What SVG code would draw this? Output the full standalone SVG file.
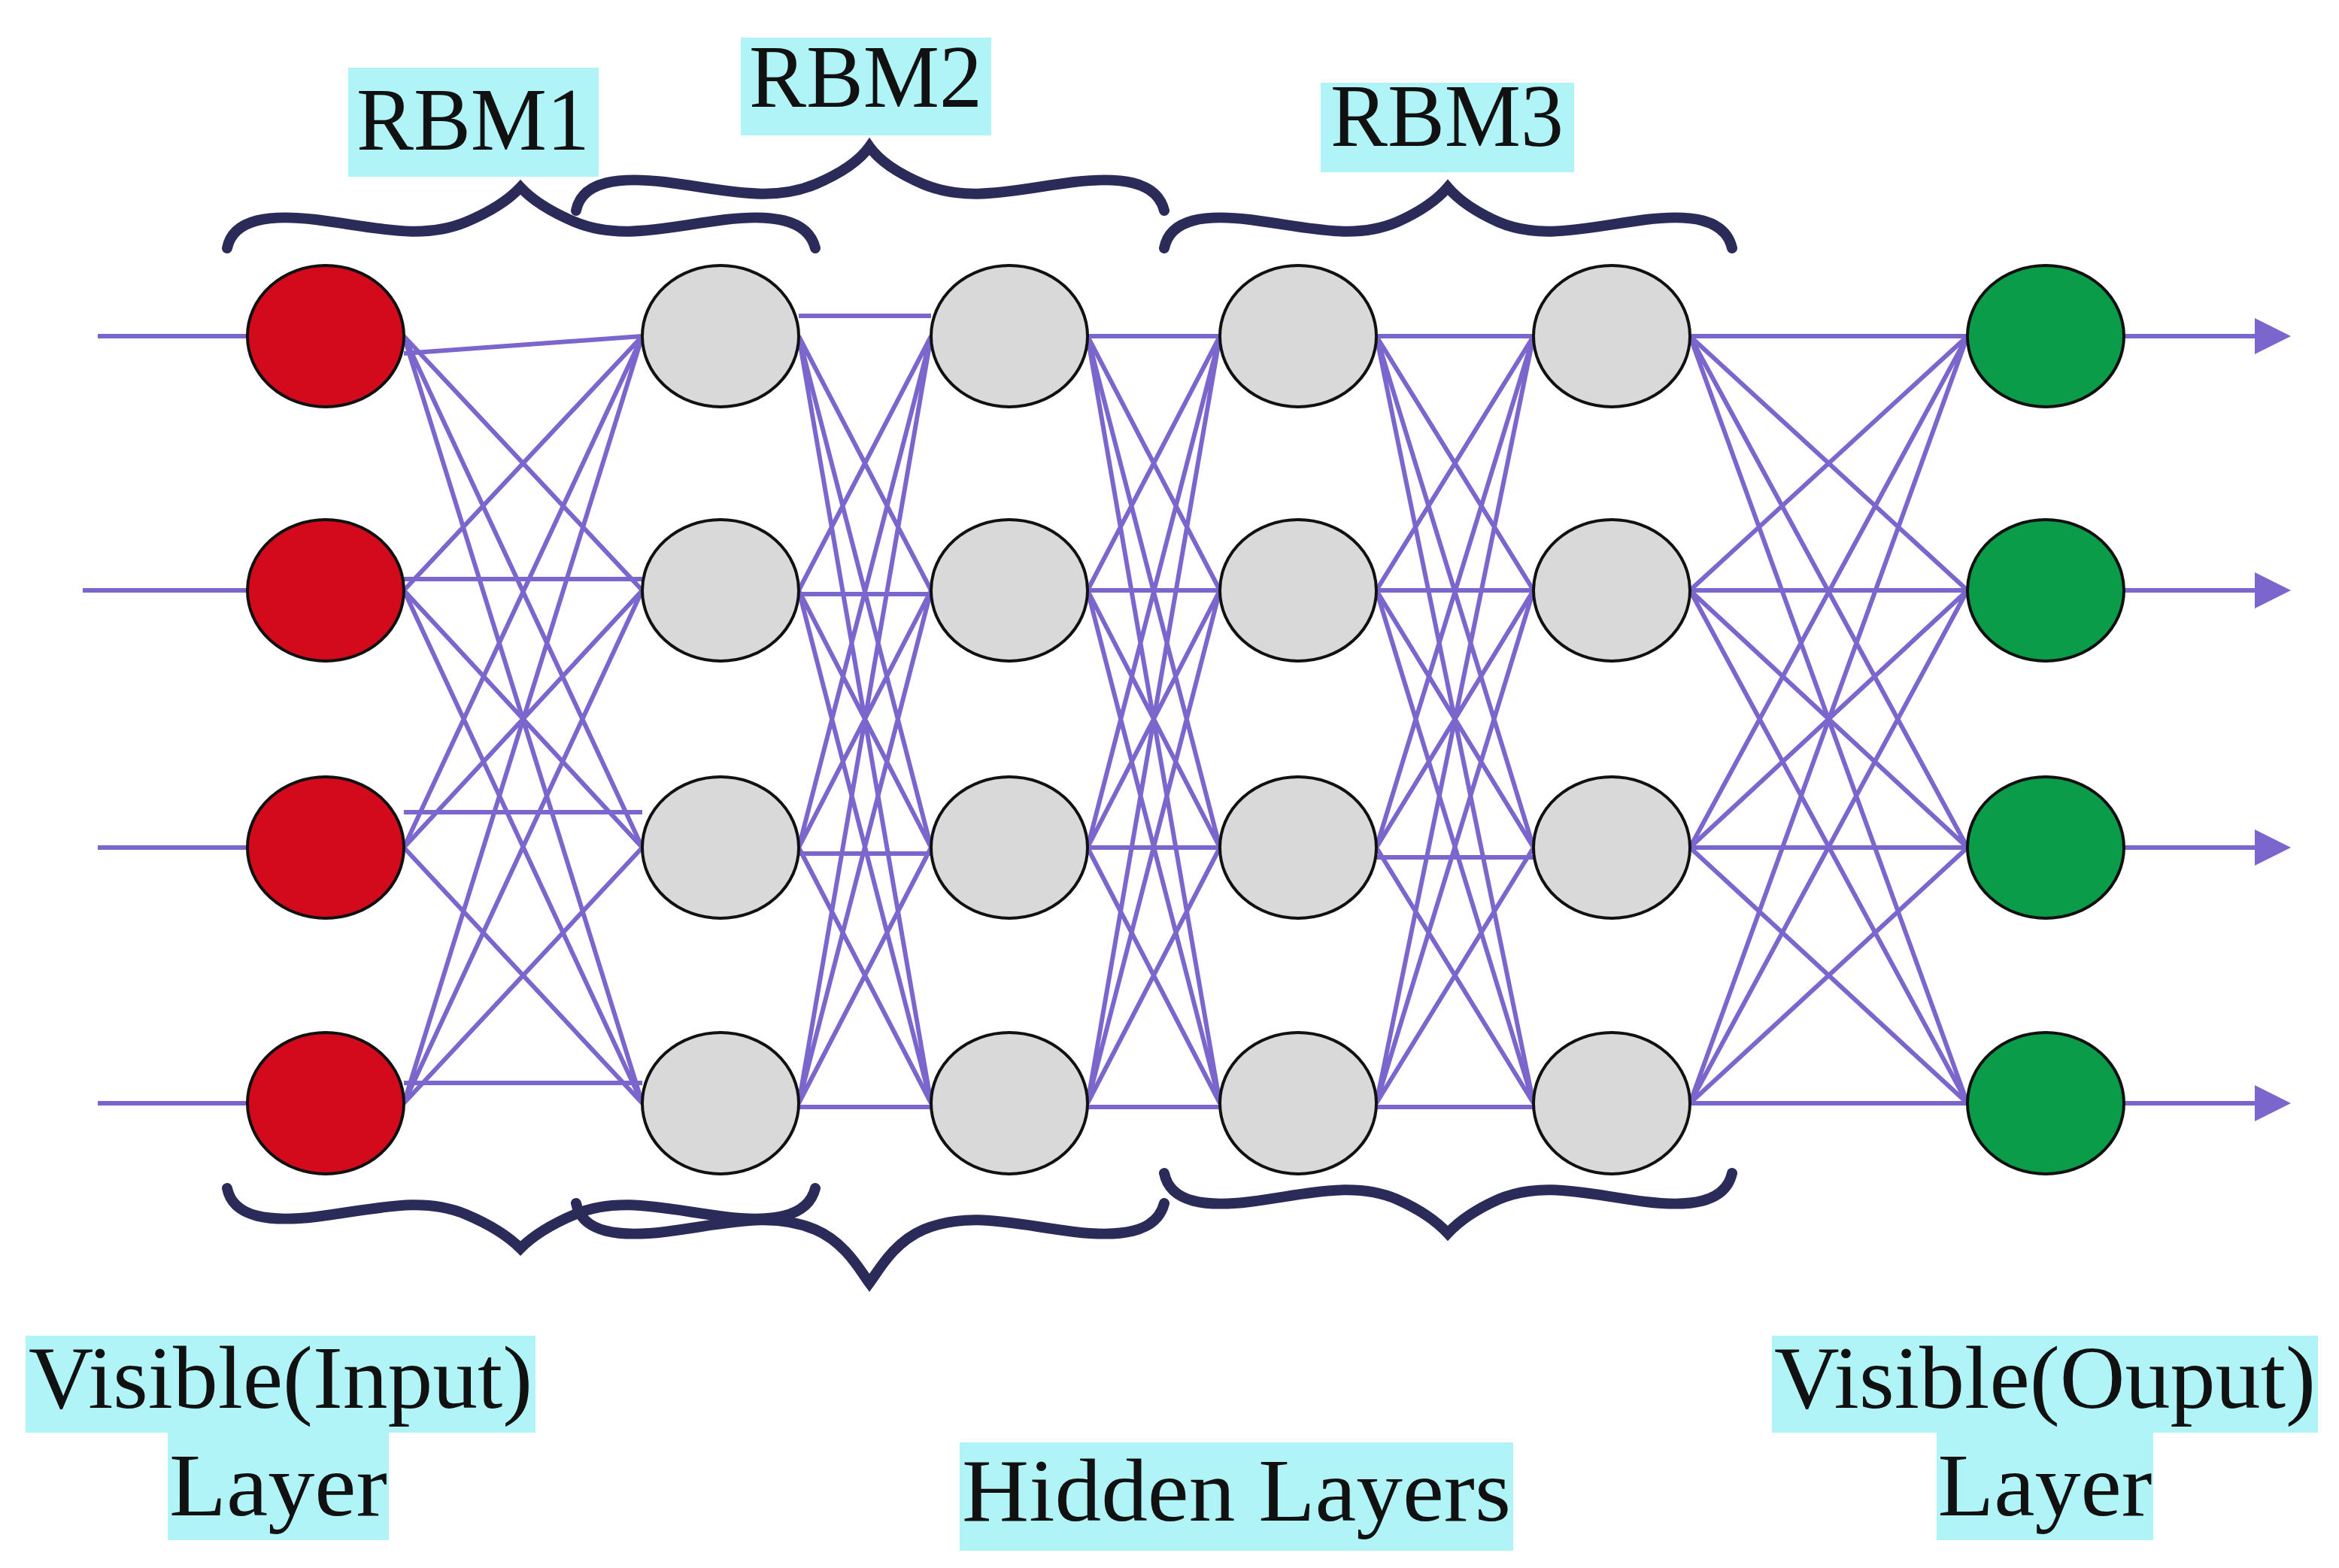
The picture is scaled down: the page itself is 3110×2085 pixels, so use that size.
<svg xmlns="http://www.w3.org/2000/svg" width="3110" height="2085" viewBox="0 0 3110 2085">
<defs>
<style>
.e{stroke:#7a66cc;stroke-width:6;fill:none}
.n{stroke:#111;stroke-width:4}
.r{fill:#d20a1c}.g{fill:#d9d9d9}.v{fill:#0a9c48}
.b{fill:#b0f4f8}
.t{font-family:"Liberation Serif","Times New Roman",serif;font-size:118px;fill:#111}
.br{fill:none;stroke:#2b2b5a;stroke-width:14;stroke-linecap:round}
</style>
<marker id="a" markerWidth="8" markerHeight="8" refX="7" refY="4" orient="auto" markerUnits="strokeWidth"><path d="M0,0 L8,4 L0,8 z" fill="#7a66cc"/></marker>
</defs>
<rect width="3110" height="2085" fill="#fff"/>
<g id="labels">
<rect class="b" x="463" y="90" width="333" height="145"/>
<text class="t" x="629" y="199" text-anchor="middle" textLength="310" lengthAdjust="spacingAndGlyphs">RBM1</text>
<rect class="b" x="985" y="50" width="333" height="130"/>
<text class="t" x="1151" y="142" text-anchor="middle" textLength="310" lengthAdjust="spacingAndGlyphs">RBM2</text>
<rect class="b" x="1756" y="110" width="337" height="119"/>
<text class="t" x="1924" y="194" text-anchor="middle" textLength="310" lengthAdjust="spacingAndGlyphs">RBM3</text>
<rect class="b" x="34" y="1776" width="678" height="129"/>
<rect class="b" x="223" y="1905" width="294" height="143"/>
<text class="t" x="373" y="1872" text-anchor="middle" textLength="670" lengthAdjust="spacingAndGlyphs">Visible(Input)</text>
<text class="t" x="370" y="2015" text-anchor="middle" textLength="290" lengthAdjust="spacingAndGlyphs">Layer</text>
<rect class="b" x="2356" y="1776" width="726" height="129"/>
<rect class="b" x="2575" y="1905" width="288" height="143"/>
<text class="t" x="2719" y="1872" text-anchor="middle" textLength="720" lengthAdjust="spacingAndGlyphs">Visible(Ouput)</text>
<text class="t" x="2719" y="2015" text-anchor="middle" textLength="285" lengthAdjust="spacingAndGlyphs">Layer</text>
<rect class="b" x="1276" y="1918" width="736" height="144"/>
<text class="t" x="1644" y="2022" text-anchor="middle" textLength="730" lengthAdjust="spacingAndGlyphs">Hidden Layers</text>
</g>
<g id="braces">
<path class="br" d="M302,330 C310,290 360,285 420,292 C500,302 560,320 620,295 C660,278 680,262 692,249 C704,262 724,278 764,295 C824,320 884,302 964,292 C1024,285 1074,290 1084,330"/>
<path class="br" d="M766,280 C774,240 824,235 884,242 C964,252 1024,270 1084,245 C1124,228 1144,212 1156,195 C1168,212 1188,228 1228,245 C1288,270 1348,252 1428,242 C1488,235 1538,240 1548,280"/>
<path class="br" d="M1548,330 C1556,290 1604,285 1662,292 C1740,302 1800,320 1858,295 C1896,278 1914,262 1925,249 C1936,262 1954,278 1992,295 C2050,320 2110,302 2188,292 C2246,285 2294,290 2303,330"/>
<path class="br" d="M302,1580 C310,1620 360,1625 420,1618 C500,1608 560,1590 620,1615 C660,1632 680,1648 692,1660 C704,1648 724,1632 764,1615 C824,1590 884,1608 964,1618 C1024,1625 1074,1620 1084,1580"/>
<path class="br" d="M766,1600 C774,1640 824,1645 884,1638 C964,1628 1024,1610 1084,1635 C1124,1652 1144,1690 1156,1706 C1168,1690 1188,1652 1228,1635 C1288,1610 1348,1628 1428,1638 C1488,1645 1538,1640 1548,1600"/>
<path class="br" d="M1548,1560 C1556,1600 1604,1605 1662,1598 C1740,1588 1800,1570 1858,1595 C1896,1612 1914,1628 1925,1640 C1936,1628 1954,1612 1992,1595 C2050,1570 2110,1588 2188,1598 C2246,1605 2294,1600 2303,1560"/>
</g>
<g id="connectors">
<path class="e" d="M130,447H329M110,785H329M130,1127H329M130,1467H329"/>
<path class="e" marker-end="url(#a)" d="M2824,447H3040"/>
<path class="e" marker-end="url(#a)" d="M2824,785H3040"/>
<path class="e" marker-end="url(#a)" d="M2824,1127H3040"/>
<path class="e" marker-end="url(#a)" d="M2824,1467H3040"/>
<path class="e" d="M537,470L854,447M537,447L854,785M537,447L854,1127M537,447L854,1467M537,785L854,447M537,770L854,770M537,785L854,1127M537,785L854,1467M537,1127L854,447M537,1080L854,1080M537,1127L854,785M537,1127L854,1467M537,1467L854,447M537,1467L854,785M537,1467L854,1127M537,1440L854,1440"/>
<path class="e" d="M1062,420H1238M1062,447L1238,785M1062,447L1238,1127M1062,447L1238,1467M1062,785L1238,447M1062,790H1238M1062,785L1238,1127M1062,785L1238,1467M1062,1127L1238,447M1062,1127L1238,785M1062,1135H1238M1062,1127L1238,1467M1062,1467L1238,447M1062,1467L1238,785M1062,1467L1238,1127M1062,1472H1238"/>
<path class="e" d="M1446,447H1622M1446,447L1622,785M1446,447L1622,1127M1446,447L1622,1467M1446,785L1622,447M1446,785H1622M1446,785L1622,1127M1446,785L1622,1467M1446,1127L1622,447M1446,1127L1622,785M1446,1127H1622M1446,1127L1622,1467M1446,1467L1622,447M1446,1467L1622,785M1446,1467L1622,1127M1446,1472H1622"/>
<path class="e" d="M1830,447H2039M1830,447L2039,785M1830,447L2039,1127M1830,447L2039,1467M1830,785L2039,447M1830,785H2039M1830,785L2039,1127M1830,785L2039,1467M1830,1127L2039,447M1830,1127L2039,785M1830,1140H2039M1830,1127L2039,1467M1830,1467L2039,447M1830,1467L2039,785M1830,1467L2039,1127M1830,1472H2039"/>
<path class="e" d="M2247,447H2616M2247,447L2616,785M2247,447L2616,1127M2247,447L2616,1467M2247,785L2616,447M2247,785H2616M2247,785L2616,1127M2247,785L2616,1467M2247,1127L2616,447M2247,1127L2616,785M2247,1127H2616M2247,1127L2616,1467M2247,1467L2616,447M2247,1467L2616,785M2247,1467L2616,1127M2247,1467H2616"/>
</g>
<g id="in1"><ellipse class="n r" cx="433" cy="447" rx="104" ry="94"/></g>
<g id="in2"><ellipse class="n r" cx="433" cy="785" rx="104" ry="94"/></g>
<g id="in3"><ellipse class="n r" cx="433" cy="1127" rx="104" ry="94"/></g>
<g id="in4"><ellipse class="n r" cx="433" cy="1467" rx="104" ry="94"/></g>
<g id="h1a"><ellipse class="n g" cx="958" cy="447" rx="104" ry="94"/></g>
<g id="h1b"><ellipse class="n g" cx="958" cy="785" rx="104" ry="94"/></g>
<g id="h1c"><ellipse class="n g" cx="958" cy="1127" rx="104" ry="94"/></g>
<g id="h1d"><ellipse class="n g" cx="958" cy="1467" rx="104" ry="94"/></g>
<g id="h2a"><ellipse class="n g" cx="1342" cy="447" rx="104" ry="94"/></g>
<g id="h2b"><ellipse class="n g" cx="1342" cy="785" rx="104" ry="94"/></g>
<g id="h2c"><ellipse class="n g" cx="1342" cy="1127" rx="104" ry="94"/></g>
<g id="h2d"><ellipse class="n g" cx="1342" cy="1467" rx="104" ry="94"/></g>
<g id="h3a"><ellipse class="n g" cx="1726" cy="447" rx="104" ry="94"/></g>
<g id="h3b"><ellipse class="n g" cx="1726" cy="785" rx="104" ry="94"/></g>
<g id="h3c"><ellipse class="n g" cx="1726" cy="1127" rx="104" ry="94"/></g>
<g id="h3d"><ellipse class="n g" cx="1726" cy="1467" rx="104" ry="94"/></g>
<g id="h4a"><ellipse class="n g" cx="2143" cy="447" rx="104" ry="94"/></g>
<g id="h4b"><ellipse class="n g" cx="2143" cy="785" rx="104" ry="94"/></g>
<g id="h4c"><ellipse class="n g" cx="2143" cy="1127" rx="104" ry="94"/></g>
<g id="h4d"><ellipse class="n g" cx="2143" cy="1467" rx="104" ry="94"/></g>
<g id="out1"><ellipse class="n v" cx="2720" cy="447" rx="104" ry="94"/></g>
<g id="out2"><ellipse class="n v" cx="2720" cy="785" rx="104" ry="94"/></g>
<g id="out3"><ellipse class="n v" cx="2720" cy="1127" rx="104" ry="94"/></g>
<g id="out4"><ellipse class="n v" cx="2720" cy="1467" rx="104" ry="94"/></g>
</svg>
